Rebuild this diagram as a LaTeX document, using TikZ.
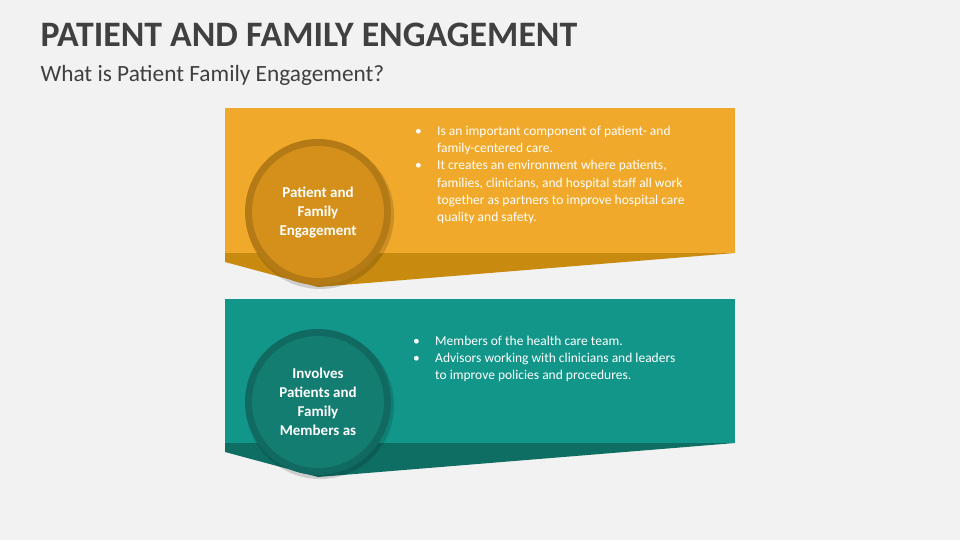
\documentclass[tikz,border=0pt]{standalone}
\usepackage{fontspec}
\setmainfont{Carlito}
\begin{document}
\begin{tikzpicture}[x=1pt,y=-1pt,
 bul/.style={anchor=north west,align=left,font=\fontsize{13.5}{17.2}\selectfont,text=white,inner sep=0},
 ctext/.style={align=center,text=white,font=\bfseries\fontsize{15}{19}\selectfont}]
\definecolor{org}{HTML}{F0A92A}\definecolor{orgd}{HTML}{C98A10}\definecolor{orgc}{HTML}{D4901A}
\definecolor{tl}{HTML}{13968A}\definecolor{tld}{HTML}{0E6E64}\definecolor{tlc}{HTML}{147D72}
\newcommand{\bb}{\makebox[22pt][l]{\textbullet}}
\newcommand{\ii}{\hspace*{22pt}}
\fill[fill={rgb,255:red,242;green,242;blue,242}] (0,0) rectangle (960,540);
\useasboundingbox (0,0) rectangle (960,540);
\node[anchor=west,font=\bfseries\fontsize{35.8}{38}\selectfont,text={rgb,255:red,64;green,64;blue,64}] (title) at (37,35) {PATIENT AND FAMILY ENGAGEMENT};
\node[anchor=west,font=\fontsize{23.3}{26}\selectfont,text={rgb,255:red,64;green,64;blue,64}] (sub) at (37,75) {What is Patient Family Engagement?};
% top
\fill[orgd] (225,253) -- (735,253) -- (318,287) -- (225,262) -- cycle;
\fill[org] (225,108) rectangle (735,253);
\fill[black,opacity=0.15] (320,215) circle (74);
\fill[orgc!85!black] (318,212) circle (73);
\fill[orgc] (318,212) circle (66);
\node[ctext] (c1) at (318,212) {Patient and\\Family\\Engagement};
\node[bul] (t1) at (415,126) {\bb Is an important component of patient- and\\\ii family-centered care.\\\bb It creates an environment where patients,\\\ii families, clinicians, and hospital staff all work\\\ii together as partners to improve hospital care\\\ii quality and safety.};
% bottom
\fill[tld] (225,443) -- (735,443) -- (318,477) -- (225,452) -- cycle;
\fill[tl] (225,299) rectangle (735,443);
\fill[black,opacity=0.15] (320,405) circle (74);
\fill[tlc!85!black] (318,402) circle (73);
\fill[tlc] (318,402) circle (66);
\node[ctext] (c2) at (318,402) {Involves\\Patients and\\Family\\Members as};
\node[bul] (t2) at (413,336) {\bb Members of the health care team.\\\bb Advisors working with clinicians and leaders\\\ii to improve policies and procedures.};
\end{tikzpicture}
\end{document}
